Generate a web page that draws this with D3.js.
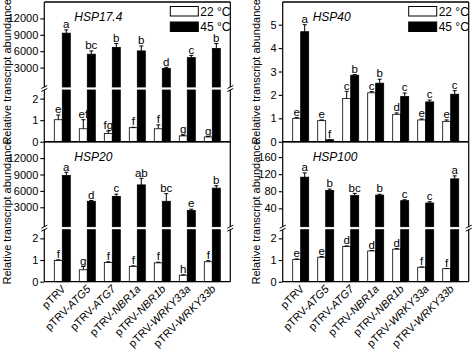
<!DOCTYPE html>
<html><head><meta charset="utf-8">
<script src="https://cdn.jsdelivr.net/npm/d3@7"></script>
<style>
body{margin:0;background:#fff;}
text{font-family:"Liberation Sans",Arial,Helvetica,sans-serif;fill:#000;}
</style></head>
<body><svg id="c" width="474" height="349"></svg>
<script>
const categories = ["pTRV","pTRV-ATG5","pTRV-ATG7","pTRV-NBR1a","pTRV-NBR1b","pTRV-WRKY33a","pTRV-WRKY33b"];
const seriesNames = ["22 °C","45 °C"];

const hsp174_22 = [1.02,0.60,0.38,0.65,0.60,0.27,0.22];
const hsp174_22err = [0.22,0.42,0.12,0.02,0.18,0.03,0.03];
const hsp174_45 = [9300,5450,6700,6050,2850,4820,6500];
const hsp174_45err = [600,600,700,900,200,420,900];
const hsp174_22let = ["e","ef","fg","f","f","g","g"];
const hsp174_45let = ["a","bc","b","b","d","c","b"];

const hsp20_22 = [0.98,0.55,0.89,0.71,0.87,0.30,0.92];
const hsp20_22err = [0.03,0.16,0.03,0.02,0.03,0.02,0.05];
const hsp20_45 = [8800,4100,5000,7100,4100,2400,6500];
const hsp20_45err = [600,150,400,1200,1400,250,450];
const hsp20_22let = ["f","g","f","f","f","h","f"];
const hsp20_45let = ["a","d","c","ab","bc","e","b"];

const hsp40_22 = [1.0,0.9,1.85,2.09,1.17,0.93,0.87];
const hsp40_22err = [0.03,0.03,0.3,0.05,0.06,0.04,0.06];
const hsp40_45 = [4.7,0.08,2.84,2.5,1.93,1.7,2.03];
const hsp40_45err = [0.3,0.01,0.03,0.17,0.15,0.08,0.15];
const hsp40_22let = ["e","e","c","c","d","e","e"];
const hsp40_45let = ["a","f","b","b","c","c","c"];

const hsp100_22 = [1.02,1.13,1.63,1.42,1.5,0.67,0.6];
const hsp100_22err = [0.03,0.03,0.02,0.02,0.03,0.01,0.01];
const hsp100_45 = [113,82,70,71,58,52.5,109];
const hsp100_45err = [10,3,5,2,2,3,7];
const hsp100_22let = ["e","e","d","d","d","f","f"];
const hsp100_45let = ["a","b","bc","b","c","c","a"];

const ticks174Up = [3000,6000,9000,12000];
const ticks100Up = [40,80,120,160];
const ticksLow = [0,1,2];
const ticks40 = [0,1,2,3,4,5];

const svg = d3.select("#c");

const panels = [
  {title:"HSP17.4", x0:44.3, top:2, bottom:141.7, broken:true, upDomain:[-550,15000], lowDomain:[0,2.4],
   upTicks:ticks174Up, lowTicks:ticksLow, w:hsp174_22, we:hsp174_22err, b:hsp174_45, be:hsp174_45err,
   wl:hsp174_22let, bl:hsp174_45let, legend:true, xlabels:false},
  {title:"HSP20", x0:44.3, top:141.7, bottom:281.7, broken:true, upDomain:[-550,15000], lowDomain:[0,2.4],
   upTicks:ticks174Up, lowTicks:ticksLow, w:hsp20_22, we:hsp20_22err, b:hsp20_45, be:hsp20_45err,
   wl:hsp20_22let, bl:hsp20_45let, legend:false, xlabels:true},
  {title:"HSP40", x0:282.7, top:2, bottom:141.7, broken:false, domain:[0,5.97],
   ticks:ticks40, w:hsp40_22, we:hsp40_22err, b:hsp40_45, be:hsp40_45err,
   wl:hsp40_22let, bl:hsp40_45let, legend:true, xlabels:false},
  {title:"HSP100", x0:282.7, top:141.7, bottom:281.7, broken:true, upDomain:[-3,196], lowDomain:[0,2.4],
   upTicks:ticks100Up, lowTicks:ticksLow, w:hsp100_22, we:hsp100_22err, b:hsp100_45, be:hsp100_45err,
   wl:hsp100_22let, bl:hsp100_45let, legend:false, xlabels:true}
];

const W = 186;
const tickSize = 4;

panels.forEach(p => {
  const g = svg.append("g");
  const x = d3.scaleBand().domain(categories).range([p.x0, p.x0 + W]).paddingInner(0.36).paddingOuter(0.4);
  const bw = x.bandwidth()/2;
  const x1 = p.x0 + W;
  let segs;
  if (p.broken) {
    const upBot = p.top + 85, lowTop = p.top + 88;
    segs = [
      {y: d3.scaleLinear().domain(p.upDomain).range([upBot, p.top]), ticks:p.upTicks, y0:p.top, y1:upBot},
      {y: d3.scaleLinear().domain(p.lowDomain).range([p.bottom, lowTop]), ticks:p.lowTicks, y0:lowTop, y1:p.bottom}
    ];
  } else {
    segs = [{y: d3.scaleLinear().domain(p.domain).range([p.bottom, p.top]), ticks:p.ticks, y0:p.top, y1:p.bottom}];
  }
  function segFor(v){
    if (!p.broken) return segs[0];
    return v > p.lowDomain[1] ? segs[0] : segs[1];
  }
  function yOf(v){ return segFor(v).y(v); }

  const series = [{vals:p.w, err:p.we, lets:p.wl, fill:"#fff", off:0},
                  {vals:p.b, err:p.be, lets:p.bl, fill:"#000", off:bw}];
  series.forEach(s => {
    categories.forEach((c,i) => {
      const v = s.vals[i];
      const bx = x(c) + s.off;
      if (p.broken && v > p.lowDomain[1]) {
        const up = segs[0], lo = segs[1];
        g.append("rect").attr("x",bx).attr("width",bw).attr("y",up.y(v)).attr("height",up.y(p.upDomain[0])-up.y(v))
          .attr("fill",s.fill).attr("stroke","#000").attr("stroke-width",0.8);
        g.append("rect").attr("x",bx).attr("width",bw).attr("y",lo.y(p.lowDomain[1])).attr("height",lo.y(0)-lo.y(p.lowDomain[1]))
          .attr("fill",s.fill).attr("stroke","#000").attr("stroke-width",0.8);
      } else {
        const sg = segFor(v);
        g.append("rect").attr("x",bx).attr("width",bw).attr("y",sg.y(v)).attr("height",sg.y(0)-sg.y(v))
          .attr("fill",s.fill).attr("stroke","#000").attr("stroke-width",0.8);
      }
      const cx = bx + bw/2;
      const yt = yOf(v + s.err[i]);
      const yb = yOf(v);
      g.append("line").attr("x1",cx).attr("x2",cx).attr("y1",yb).attr("y2",yt).attr("stroke","#000").attr("stroke-width",1);
      g.append("line").attr("x1",cx-2).attr("x2",cx+2).attr("y1",yt).attr("y2",yt).attr("stroke","#000").attr("stroke-width",1);
      g.append("text").attr("x",cx).attr("y",yt-1.8).attr("text-anchor","middle").attr("font-size",11.5).text(s.lets[i]);
    });
  });

  g.append("line").attr("x1",p.x0).attr("x2",x1).attr("y1",p.top).attr("y2",p.top).attr("stroke","#000").attr("stroke-width",1.5);
  g.append("line").attr("x1",p.x0).attr("x2",x1).attr("y1",p.bottom).attr("y2",p.bottom).attr("stroke","#000").attr("stroke-width",1.2);
  segs.forEach(sg => {
    [p.x0, x1].forEach(xx => {
      g.append("line").attr("x1",xx).attr("x2",xx).attr("y1",sg.y0).attr("y2",sg.y1).attr("stroke","#000").attr("stroke-width",1.2);
    });
    const ax = d3.axisLeft(sg.y).tickValues(sg.ticks).tickSize(tickSize).tickPadding(2).tickFormat(d3.format("d"));
    const ag = g.append("g").attr("transform",`translate(${p.x0},0)`).call(ax);
    ag.select(".domain").remove();
    ag.selectAll("line").attr("stroke","#000").attr("stroke-width",1.1);
    ag.selectAll("text").attr("font-size",11).attr("font-family","Liberation Sans, Arial, sans-serif").attr("fill","#000");
  });
  if (p.broken) {
    const yb1 = segs[0].y1, yb2 = segs[1].y0;
    [p.x0, x1].forEach(xx => {
      [yb1, yb2].forEach(yy => {
        g.append("line").attr("x1",xx-3).attr("x2",xx+3).attr("y1",yy+1.5).attr("y2",yy-1.5).attr("stroke","#000").attr("stroke-width",1);
      });
    });
  }

  g.append("text").attr("x",p.x0+30).attr("y",p.top+19).attr("font-size",12).attr("font-style","italic").text(p.title);

  const lx = p.x0 < 100 ? 10.5 : 259.5;
  g.append("text").attr("transform",`translate(${lx},${(p.top+p.bottom)/2}) rotate(-90)`)
    .attr("text-anchor","middle").attr("font-size",11).text("Relative transcript abundance");

  if (p.legend) {
    const lg = g.append("g");
    seriesNames.forEach((n,i) => {
      lg.append("rect").attr("x",x1-60).attr("y",p.top+4.5+i*15.5).attr("width",28).attr("height",9.5)
        .attr("fill",i===0?"#fff":"#000").attr("stroke","#000").attr("stroke-width",1);
      lg.append("text").attr("x",x1-30).attr("y",p.top+13.5+i*15.5).attr("font-size",12).text(n);
    });
  }

  if (p.xlabels) {
    categories.forEach(c => {
      const cx = x(c) + x.bandwidth()/2;
      const t = g.append("text").attr("transform",`translate(${cx+4},${p.bottom+8}) rotate(-45)`)
        .attr("text-anchor","end").attr("font-size",11);
      const parts = c.split("-");
      t.append("tspan").text(parts[0] + (parts.length>1?"-":""));
      if (parts.length>1) t.append("tspan").attr("font-style","italic").text(parts[1]);
    });
  }
});
</script></body></html>
